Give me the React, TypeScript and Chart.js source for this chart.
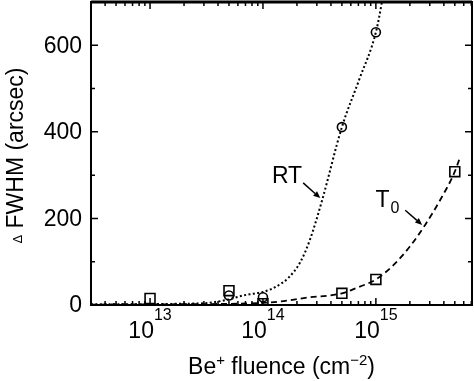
import React, { useEffect, useRef } from "react";
import { Chart, registerables } from "chart.js";

Chart.register(...registerables);

// ---- data ----
const xRange = [3e12, 7.1e15];
const yRange = [0, 700];
const yMajorTicks = [0, 200, 400, 600];
const yMinorTicks = [100, 300, 500];
const xMajorExponents = [13, 14, 15];

// RT fitted curve (dotted)
const rtCurveX = [3e12, 1e13, 2e13, 3e13, 4e13, 5e13, 5.67e13, 6.67e13, 8.18e13, 1e14, 1.21e14, 1.48e14, 1.67e14, 2.13e14, 2.6e14, 3.34e14, 5e14, 7.1e14, 1e15, 1.13e15, 1.2e15];
const rtCurveY = [2, 2, 3, 4, 8, 13, 17, 22, 26, 30, 38, 51, 62, 98, 150, 242, 411, 520, 630, 700, 745];
// T0 fitted curve (dashed)
const t0CurveX = [3e12, 1e13, 3e13, 6e13, 1e14, 1.4e14, 2.45e14, 5e14, 6.8e14, 1e15, 1.43e15, 2e15, 2.73e15, 3.7e15, 5e15, 5.5e15];
const t0CurveY = [1, 1.5, 2, 3, 5, 8, 17, 27, 40, 59, 92, 135, 185, 242, 308, 338];
// measured points
const rtPointsX = [5e13, 1e14, 5e14, 1e15];
const rtPointsY = [22, 18, 411, 630];
const t0PointsX = [1e13, 5e13, 1e14, 5e14, 1e15, 5e15];
const t0PointsY = [15, 33, 3, 27, 59, 308];

// annotation anchors in data space
const rtLabel = { x: 1.2e14, y: 282 };
const rtArrow = { x1: 2.27e14, y1: 282, x2: 3.22e14, y2: 247 };
const t0Label = { x: 9.9e14, y: 226 };
const t0Arrow = { x1: 1.82e15, y1: 219, x2: 2.57e15, y2: 185 };

const FONT = '"Liberation Sans", Arial, Helvetica, sans-serif';
const BIG = 23;
const SMALL = 16;

const zip = (xs: number[], ys: number[]) => xs.map((x, i) => ({ x, y: ys[i] }));

const decorPlugin = {
  id: "decor",
  afterDraw(chart: any) {
    const { ctx, chartArea } = chart;
    const { left, right, top, bottom } = chartArea;
    const xs = chart.scales.x;
    const ys = chart.scales.y;
    ctx.save();
    ctx.strokeStyle = "#000";
    ctx.fillStyle = "#000";

    // frame
    ctx.lineWidth = 2;
    ctx.strokeRect(left, top, right - left, bottom - top);
    ctx.lineWidth = 3;
    ctx.beginPath();
    ctx.moveTo(left, top);
    ctx.lineTo(right, top);
    ctx.stroke();

    // x ticks
    ctx.lineWidth = 1.5;
    for (let e = 12; e <= 16; e++) {
      for (let m = 1; m <= 9; m++) {
        const v = m * Math.pow(10, e);
        if (v < xRange[0] || v > xRange[1]) continue;
        const px = xs.getPixelForValue(v);
        const len = m === 1 ? 7 : 4;
        ctx.beginPath();
        ctx.moveTo(px, bottom);
        ctx.lineTo(px, bottom - len);
        ctx.moveTo(px, top);
        ctx.lineTo(px, top + len);
        ctx.stroke();
      }
    }
    // y ticks
    const yt = [...yMajorTicks.map((v) => [v, 7]), ...yMinorTicks.map((v) => [v, 4])];
    yt.forEach(([v, len]) => {
      const py = ys.getPixelForValue(v);
      ctx.beginPath();
      ctx.moveTo(left, py);
      ctx.lineTo(left + len, py);
      ctx.moveTo(right, py);
      ctx.lineTo(right - len, py);
      ctx.stroke();
    });

    // y tick labels
    ctx.font = `${BIG}px ${FONT}`;
    ctx.textAlign = "right";
    ctx.textBaseline = "middle";
    yMajorTicks.forEach((v) => {
      ctx.fillText(String(v), 82, ys.getPixelForValue(v) + 1);
    });

    // x tick labels 10^n
    ctx.textAlign = "left";
    ctx.textBaseline = "alphabetic";
    xMajorExponents.forEach((e) => {
      const px = xs.getPixelForValue(Math.pow(10, e));
      ctx.font = `${BIG}px ${FONT}`;
      const w1 = ctx.measureText("10").width;
      ctx.font = `${SMALL}px ${FONT}`;
      const w2 = ctx.measureText(String(e)).width;
      const x0 = px - (w1 + w2) / 2;
      ctx.font = `${BIG}px ${FONT}`;
      ctx.fillText("10", x0, 338);
      ctx.font = `${SMALL}px ${FONT}`;
      ctx.fillText(String(e), x0 + w1, 320);
    });

    // x title
    const parts: [string, number, number][] = [
      ["Be", BIG, 0],
      ["+", 15, -9],
      [" fluence (cm", BIG, 0],
      ["\u22122", 15, -9],
      [")", BIG, 0],
    ];
    let total = 0;
    parts.forEach(([t, s]) => {
      ctx.font = `${s}px ${FONT}`;
      total += ctx.measureText(t).width;
    });
    let cx = (left + right) / 2 - total / 2;
    parts.forEach(([t, s, dy]) => {
      ctx.font = `${s}px ${FONT}`;
      ctx.fillText(t, cx, 374 + dy);
      cx += ctx.measureText(t).width;
    });

    // y title (rotated)
    ctx.save();
    ctx.translate(23, (top + bottom) / 2 + 2);
    ctx.rotate(-Math.PI / 2);
    ctx.font = `13px ${FONT}`;
    const wd = ctx.measureText("\u0394").width;
    ctx.font = `${BIG}px ${FONT}`;
    const wr = ctx.measureText(" FWHM (arcsec)").width;
    let tx = -(wd + wr) / 2;
    ctx.font = `13px ${FONT}`;
    ctx.fillText("\u0394", tx, -1);
    ctx.font = `${BIG}px ${FONT}`;
    ctx.fillText(" FWHM (arcsec)", tx + wd, 0);
    ctx.restore();

    // annotations
    const arrow = (a: any) => {
      const x1 = xs.getPixelForValue(a.x1), y1 = ys.getPixelForValue(a.y1);
      const x2 = xs.getPixelForValue(a.x2), y2 = ys.getPixelForValue(a.y2);
      const ang = Math.atan2(y2 - y1, x2 - x1);
      const hl = 7, hw = 3;
      ctx.lineWidth = 1.5;
      ctx.beginPath();
      ctx.moveTo(x1, y1);
      ctx.lineTo(x2 - hl * Math.cos(ang), y2 - hl * Math.sin(ang));
      ctx.stroke();
      ctx.beginPath();
      ctx.moveTo(x2, y2);
      ctx.lineTo(x2 - hl * Math.cos(ang) + hw * Math.sin(ang), y2 - hl * Math.sin(ang) - hw * Math.cos(ang));
      ctx.lineTo(x2 - hl * Math.cos(ang) - hw * Math.sin(ang), y2 - hl * Math.sin(ang) + hw * Math.cos(ang));
      ctx.closePath();
      ctx.fill();
    };
    ctx.font = `${BIG}px ${FONT}`;
    ctx.fillText("RT", xs.getPixelForValue(rtLabel.x), ys.getPixelForValue(rtLabel.y));
    arrow(rtArrow);
    const tX = xs.getPixelForValue(t0Label.x), tY = ys.getPixelForValue(t0Label.y);
    ctx.fillText("T", tX, tY);
    const tw = ctx.measureText("T").width;
    ctx.font = `${SMALL}px ${FONT}`;
    ctx.fillText("0", tX + tw + 1, tY + 6);
    arrow(t0Arrow);

    ctx.restore();
  },
};

export default function App() {
  const ref = useRef<HTMLCanvasElement>(null);
  useEffect(() => {
    if (!ref.current) return;
    const chart = new Chart(ref.current, {
      type: "scatter",
      data: {
        datasets: [
          {
            data: zip(rtCurveX, rtCurveY),
            showLine: true,
            borderColor: "#000",
            borderWidth: 2,
            borderDash: [2, 2.4],
            pointRadius: 0,
            cubicInterpolationMode: "monotone",
          },
          {
            data: zip(t0CurveX, t0CurveY),
            showLine: true,
            borderColor: "#000",
            borderWidth: 1.8,
            borderDash: [6, 4],
            pointRadius: 0,
            cubicInterpolationMode: "monotone",
          },
          {
            data: zip(rtPointsX, rtPointsY),
            showLine: false,
            pointStyle: "circle",
            pointRadius: 4.5,
            pointBorderWidth: 1.6,
            pointBorderColor: "#000",
            pointBackgroundColor: "rgba(0,0,0,0)",
          },
          {
            data: zip(t0PointsX, t0PointsY),
            showLine: false,
            pointStyle: "rect",
            pointRadius: 7,
            pointBorderWidth: 1.6,
            pointBorderColor: "#000",
            pointBackgroundColor: "rgba(0,0,0,0)",
          },
        ],
      } as any,
      options: {
        animation: false,
        responsive: false,
        maintainAspectRatio: false,
        layout: { autoPadding: false, padding: { left: 91, right: 2, top: 2, bottom: 76 } },
        plugins: { legend: { display: false }, tooltip: { enabled: false } },
        scales: {
          x: { type: "logarithmic", min: xRange[0], max: xRange[1], display: false },
          y: { type: "linear", min: yRange[0], max: yRange[1], display: false },
        },
      } as any,
      plugins: [decorPlugin],
    });
    return () => chart.destroy();
  }, []);
  return (
    <div style={{ position: "fixed", left: 0, top: 0, width: 474, height: 381, background: "#fff" }}>
      <canvas ref={ref} width={474} height={381} style={{ width: 474, height: 381 }} />
    </div>
  );
}
